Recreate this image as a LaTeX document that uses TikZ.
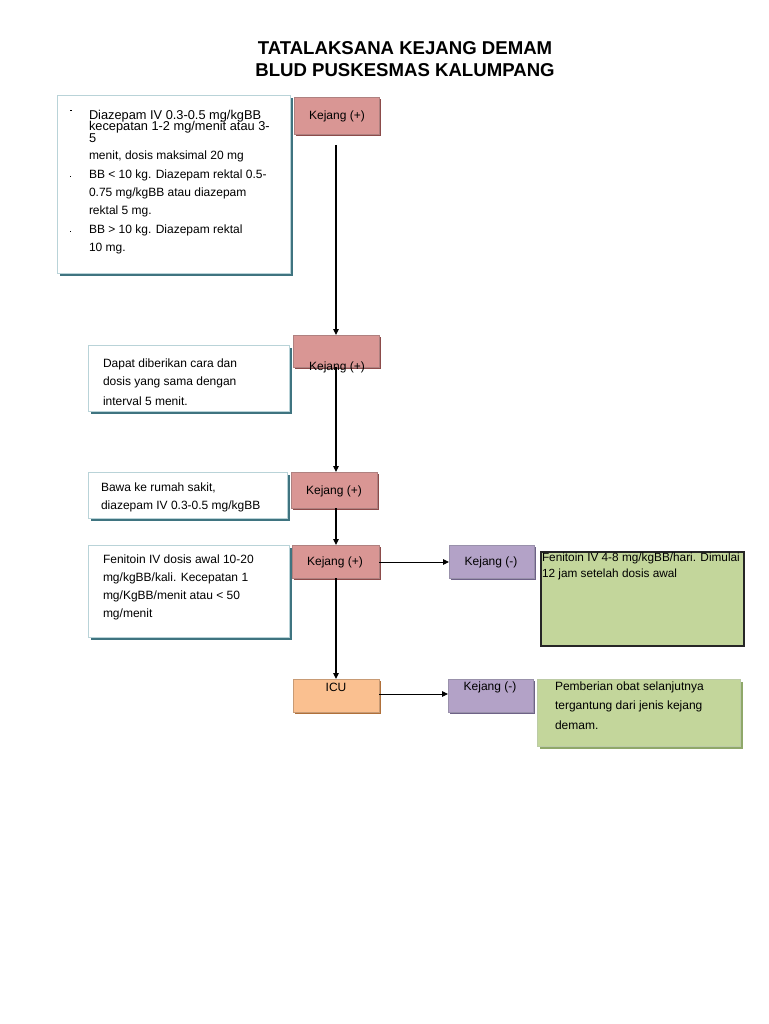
\documentclass[tikz,border=0pt]{standalone}
\usepackage{fontspec}
\setmainfont{Liberation Sans}
\usetikzlibrary{arrows.meta}
\definecolor{pinkfill}{HTML}{D99694}
\definecolor{pinkedge}{HTML}{8C4B4A}
\definecolor{purplefill}{HTML}{B3A2C7}
\definecolor{purpleedge}{HTML}{6E6287}
\definecolor{orangefill}{HTML}{FAC090}
\definecolor{orangeedge}{HTML}{B0703A}
\definecolor{greenfill}{HTML}{C3D69B}
\definecolor{greenedge}{HTML}{8FA86A}
\definecolor{infoborder}{HTML}{B9D3D8}
\definecolor{infoshadow}{HTML}{3F7480}
\tikzset{
  x=1pt, y=-1pt,
  every node/.style={inner sep=0pt, outer sep=0pt},
  txt/.style={font=\fontsize{12}{14}\selectfont, anchor=west},
  infobox/.style={draw=infoborder, line width=0.9pt, fill=white, anchor=north west,
    preaction={fill=infoshadow, transform canvas={shift={(3pt,-3pt)}}}},
  flowbox/.style={anchor=north west, draw=#1edge!70, line width=0.4pt, fill=#1fill,
    preaction={fill=#1edge, transform canvas={shift={(1.8pt,-1.8pt)}}}},
  lbl/.style={font=\fontsize{12}{14}\selectfont},
  conn/.style={line width=1.2pt},
  arr/.style={conn, -{Triangle[length=6pt,width=5.5pt]}},
  harr/.style={line width=0.9pt, -{Triangle[length=6pt,width=5.5pt]}},
}
\begin{document}
\begin{tikzpicture}
\useasboundingbox (0,0) rectangle (768,1024);
\fill[white] (0,0) rectangle (768,1024);
% title
\node[font=\fontsize{18.6}{22}\selectfont\bfseries] (t1) at (405,48) {TATALAKSANA KEJANG DEMAM};
\node[font=\fontsize{18.6}{22}\selectfont\bfseries] (t2) at (405,70) {BLUD PUSKESMAS KALUMPANG};

% left info boxes
\node[infobox, minimum width=233, minimum height=178] (b1) at (57,95) {};
\node[infobox, minimum width=201, minimum height=66] (b2) at (88,345) {};
\node[infobox, minimum width=199, minimum height=46] (b3) at (88,472) {};
\node[infobox, minimum width=201, minimum height=92] (b4) at (88,545) {};

% flow boxes
\node[flowbox=pink, minimum width=85, minimum height=37] (k1) at (294,97) {};
\node[flowbox=pink, minimum width=86, minimum height=32] (k2) at (293,335) {};
\node[flowbox=pink, minimum width=86, minimum height=36] (k3) at (291,472) {};
\node[flowbox=pink, minimum width=87, minimum height=33] (k4) at (292,545) {};
\node[flowbox=purple, minimum width=85, minimum height=33] (m1) at (449,545) {};
\node[flowbox=orange, minimum width=86, minimum height=33] (icu) at (293,679) {};
\node[flowbox=purple, minimum width=85, minimum height=33] (m2) at (448,679) {};

% green boxes
\node[anchor=north west, draw=black!85, line width=1.4pt, fill=greenfill, minimum width=203, minimum height=94] (g1) at (541,552) {};
\node[anchor=north west, draw=greenedge!60, line width=0.6pt, fill=greenfill, minimum width=203, minimum height=67,
  preaction={fill=greenedge, transform canvas={shift={(2.5pt,-2.5pt)}}}] (g2) at (537,679) {};

% labels in flow boxes
\node[lbl] (l1) at (337,116) {Kejang (+)};
\node[lbl] (l2) at (337,367) {Kejang (+)};
\node[lbl] (l3) at (334,491) {Kejang (+)};
\node[lbl] (l4) at (335,562) {Kejang (+)};
\node[lbl] (l5) at (491,562) {Kejang (-)};
\node[lbl] (l6) at (336,687) {ICU};
\node[lbl] (l7) at (490,687) {Kejang (-)};

% box 1 text
\node[txt, font=\fontsize{12.8}{14}\selectfont] (a1) at (89,116) {Diazepam IV 0.3-0.5 mg/kgBB};
\node[txt, font=\fontsize{12.8}{14}\selectfont] (a2) at (89,127) {kecepatan 1-2 mg/menit atau 3-};
\node[txt, font=\fontsize{12.8}{14}\selectfont] (a3) at (89,138) {5};
\node[txt] (a4) at (89,156.5) {menit, dosis maksimal 20 mg};
\node[txt] (a5) at (89,175) {BB < 10 kg. Diazepam rektal 0.5-};
\node[txt] (a6) at (89,193.5) {0.75 mg/kgBB atau diazepam};
\node[txt] (a7) at (89,211.5) {rektal 5 mg.};
\node[txt] (a8) at (89,230) {BB > 10 kg. Diazepam rektal};
\node[txt] (a9) at (89,249) {10 mg.};
\fill (69.5,109.6) rectangle (71.5,110.4);
\fill (70.2,176.5) rectangle (71.2,177.5);
\fill (70.2,231.2) rectangle (71.2,232.2);

% box 2 text
\node[txt] (c1) at (103,364) {Dapat diberikan cara dan};
\node[txt] (c2) at (103,382.5) {dosis yang sama dengan};
\node[txt] (c3) at (103,401) {interval 5 menit.};
% box 3 text
\node[txt] (d1) at (101,488) {Bawa ke rumah sakit,};
\node[txt] (d2) at (101,506.5) {diazepam IV 0.3-0.5 mg/kgBB};
% box 4 text
\node[txt] (e1) at (103,559) {Fenitoin IV dosis awal 10-20};
\node[txt] (e2) at (103,578) {mg/kgBB/kali. Kecepatan 1};
\node[txt] (e3) at (103,596) {mg/KgBB/menit atau < 50};
\node[txt] (e4) at (103,614) {mg/menit};
% green texts
\node[txt, font=\fontsize{11.8}{14}\selectfont] (f1) at (542,558.5) {Fenitoin IV 4-8 mg/kgBB/hari. Dimulai};
\node[txt, font=\fontsize{11.8}{14}\selectfont] (f2) at (542,574.5) {12 jam setelah dosis awal};
\node[txt] (h1) at (555,687.5) {Pemberian obat selanjutnya};
\node[txt] (h2) at (555,706) {tergantung dari jenis kejang};
\node[txt] (h3) at (555,725) {demam.};

% connectors (vertical spine at x = 336)
\coordinate (sp) at (336,0);
\draw[arr] (sp |- 0,145) -- (sp |- k2.north);
\draw[arr] (sp |- k2.south) -- (sp |- k3.north);
\draw[arr] (sp |- k3.south) -- (sp |- k4.north);
\draw[arr] (sp |- k4.south) -- (sp |- icu.north);
\coordinate (k4R) at (379,562);
\draw[harr] (k4R) -- (m1.west |- k4R);
\coordinate (icuR) at (379,694);
\draw[harr] (icuR) -- (m2.west |- icuR);
\end{tikzpicture}
\end{document}
